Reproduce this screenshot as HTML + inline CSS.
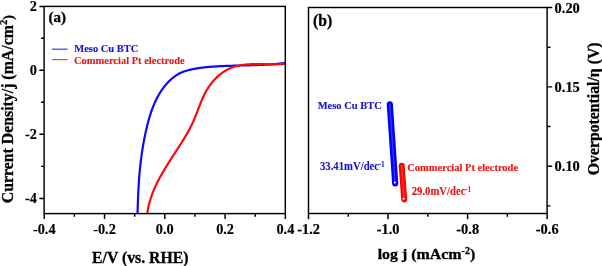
<!DOCTYPE html>
<html><head><meta charset="utf-8"><title>LSV and Tafel plots</title>
<style>html,body{margin:0;padding:0;background:#fff;width:602px;height:266px;overflow:hidden}</style>
</head><body>
<svg width="602" height="266" viewBox="0 0 602 266" style="position:absolute;left:0;top:0;font-family:'Liberation Serif','Times New Roman',serif;font-weight:bold">
<rect width="602" height="266" fill="#fff"/>
<defs><clipPath id="cl"><rect x="44.1" y="6.4" width="241.20" height="207.20"/></clipPath></defs>
<g clip-path="url(#cl)" fill="none" stroke-width="2.2" stroke-linejoin="round">
<path d="M137.55,214.03 L137.57,213.14 L137.59,212.25 L137.61,211.36 L137.63,210.47 L137.65,209.59 L137.68,208.70 L137.70,207.82 L137.72,206.94 L137.75,206.05 L137.77,205.17 L137.80,204.29 L137.83,203.41 L137.85,202.54 L137.88,201.66 L137.91,200.78 L137.95,199.91 L137.98,199.03 L138.01,198.16 L138.05,197.28 L138.08,196.41 L138.12,195.54 L138.16,194.67 L138.20,193.80 L138.24,192.93 L138.28,192.06 L138.32,191.19 L138.37,190.32 L138.41,189.45 L138.46,188.59 L138.51,187.72 L138.56,186.86 L138.61,185.99 L138.66,185.13 L138.72,184.26 L138.77,183.40 L138.83,182.54 L138.89,181.68 L138.95,180.82 L139.01,179.96 L139.07,179.09 L139.14,178.23 L139.20,177.38 L139.27,176.52 L139.34,175.66 L139.41,174.80 L139.49,173.94 L139.56,173.08 L139.64,172.23 L139.72,171.37 L139.80,170.51 L139.88,169.66 L139.96,168.80 L140.05,167.95 L140.14,167.09 L140.23,166.24 L140.32,165.38 L140.41,164.53 L140.51,163.67 L140.61,162.82 L140.71,161.96 L140.81,161.11 L140.92,160.26 L141.02,159.40 L141.13,158.55 L141.24,157.70 L141.35,156.84 L141.47,155.99 L141.59,155.14 L141.71,154.28 L141.83,153.43 L141.95,152.58 L142.08,151.72 L142.21,150.87 L142.34,150.02 L142.48,149.16 L142.61,148.31 L142.75,147.46 L142.89,146.60 L143.04,145.75 L143.18,144.90 L143.33,144.04 L143.48,143.19 L143.64,142.34 L143.79,141.48 L143.95,140.63 L144.12,139.77 L144.28,138.92 L144.45,138.06 L144.62,137.21 L144.79,136.35 L144.97,135.50 L145.15,134.64 L145.33,133.78 L145.51,132.93 L145.70,132.07 L145.89,131.21 L146.08,130.36 L146.28,129.50 L146.48,128.64 L146.68,127.78 L146.89,126.92 L147.10,126.06 L147.31,125.21 L147.53,124.35 L147.75,123.49 L147.97,122.63 L148.20,121.78 L148.43,120.92 L148.67,120.07 L148.91,119.22 L149.15,118.37 L149.40,117.52 L149.66,116.67 L149.91,115.82 L150.18,114.98 L150.45,114.14 L150.72,113.30 L151.00,112.46 L151.28,111.63 L151.57,110.80 L151.87,109.97 L152.17,109.14 L152.48,108.32 L152.79,107.50 L153.11,106.68 L153.43,105.87 L153.77,105.06 L154.10,104.26 L154.45,103.46 L154.80,102.66 L155.16,101.87 L155.52,101.08 L155.89,100.29 L156.27,99.52 L156.66,98.74 L157.05,97.97 L157.45,97.21 L157.86,96.45 L158.27,95.70 L158.70,94.95 L159.13,94.20 L159.57,93.47 L160.01,92.74 L160.47,92.01 L160.93,91.29 L161.40,90.58 L161.89,89.88 L162.37,89.18 L162.87,88.49 L163.38,87.80 L163.90,87.12 L164.42,86.45 L164.96,85.79 L165.50,85.13 L166.05,84.49 L166.62,83.85 L167.19,83.21 L167.77,82.59 L168.36,81.97 L168.96,81.36 L169.58,80.77 L170.20,80.17 L170.83,79.59 L171.48,79.02 L172.13,78.46 L172.80,77.90 L173.47,77.36 L174.16,76.83 L174.86,76.31 L175.56,75.81 L176.28,75.32 L177.01,74.85 L177.75,74.40 L178.50,73.97 L179.26,73.56 L180.04,73.17 L180.82,72.80 L181.61,72.45 L182.41,72.12 L183.22,71.81 L184.04,71.51 L184.86,71.23 L185.69,70.97 L186.52,70.72 L187.36,70.48 L188.20,70.25 L189.05,70.03 L189.90,69.83 L190.75,69.63 L191.60,69.44 L192.45,69.25 L193.30,69.08 L194.16,68.91 L195.01,68.74 L195.87,68.59 L196.73,68.44 L197.59,68.29 L198.45,68.16 L199.31,68.03 L200.18,67.90 L201.04,67.78 L201.90,67.67 L202.77,67.56 L203.63,67.45 L204.50,67.36 L205.37,67.26 L206.24,67.17 L207.10,67.08 L207.97,67.00 L208.84,66.93 L209.71,66.85 L210.58,66.78 L211.45,66.71 L212.32,66.65 L213.19,66.59 L214.06,66.53 L214.93,66.48 L215.80,66.42 L216.67,66.37 L217.54,66.32 L218.41,66.28 L219.29,66.23 L220.16,66.19 L221.03,66.15 L221.90,66.11 L222.77,66.07 L223.64,66.03 L224.51,65.99 L225.38,65.96 L226.25,65.93 L227.11,65.90 L227.98,65.87 L228.85,65.84 L229.72,65.81 L230.59,65.78 L231.46,65.75 L232.33,65.73 L233.20,65.70 L234.07,65.68 L234.94,65.66 L235.81,65.63 L236.67,65.61 L237.54,65.59 L238.41,65.57 L239.28,65.55 L240.15,65.52 L241.02,65.50 L241.88,65.48 L242.75,65.46 L243.62,65.44 L244.49,65.42 L245.35,65.40 L246.22,65.38 L247.09,65.35 L247.96,65.33 L248.82,65.31 L249.69,65.28 L250.56,65.26 L251.42,65.23 L252.29,65.21 L253.16,65.18 L254.02,65.16 L254.89,65.13 L255.75,65.10 L256.62,65.07 L257.49,65.04 L258.35,65.00 L259.22,64.97 L260.08,64.93 L260.95,64.90 L261.81,64.86 L262.68,64.82 L263.54,64.78 L264.41,64.73 L265.27,64.69 L266.14,64.64 L267.00,64.59 L267.87,64.54 L268.73,64.49 L269.60,64.43 L270.46,64.37 L271.32,64.31 L272.19,64.25 L273.05,64.19 L273.91,64.12 L274.78,64.05 L275.64,63.98 L276.50,63.91 L277.37,63.83 L278.23,63.75 L279.09,63.67 L279.96,63.58 L280.82,63.49 L281.68,63.40 L282.54,63.30 L283.40,63.20 L284.27,63.10 L285.13,63.00 L285.99,62.89" stroke="#0a0aff"/>
<path d="M147.19,213.97 L147.29,213.20 L147.41,212.43 L147.52,211.66 L147.65,210.89 L147.78,210.13 L147.92,209.37 L148.07,208.61 L148.22,207.85 L148.38,207.10 L148.54,206.35 L148.72,205.61 L148.89,204.86 L149.08,204.12 L149.27,203.38 L149.47,202.64 L149.67,201.91 L149.88,201.18 L150.09,200.45 L150.31,199.72 L150.54,198.99 L150.77,198.27 L151.00,197.55 L151.25,196.83 L151.49,196.12 L151.75,195.40 L152.00,194.69 L152.27,193.98 L152.53,193.27 L152.81,192.57 L153.08,191.86 L153.37,191.16 L153.65,190.46 L153.94,189.77 L154.24,189.07 L154.54,188.38 L154.84,187.68 L155.15,186.99 L155.46,186.31 L155.78,185.62 L156.10,184.93 L156.43,184.25 L156.76,183.57 L157.09,182.89 L157.42,182.21 L157.76,181.53 L158.11,180.86 L158.45,180.19 L158.80,179.51 L159.16,178.84 L159.51,178.17 L159.87,177.51 L160.23,176.84 L160.60,176.17 L160.97,175.51 L161.34,174.85 L161.71,174.18 L162.09,173.52 L162.47,172.86 L162.85,172.21 L163.23,171.55 L163.62,170.89 L164.01,170.24 L164.40,169.58 L164.79,168.93 L165.18,168.28 L165.58,167.63 L165.97,166.98 L166.37,166.33 L166.77,165.68 L167.18,165.03 L167.58,164.39 L167.99,163.74 L168.39,163.09 L168.80,162.45 L169.21,161.81 L169.62,161.16 L170.03,160.52 L170.44,159.88 L170.85,159.24 L171.27,158.59 L171.68,157.95 L172.09,157.31 L172.51,156.67 L172.92,156.03 L173.34,155.39 L173.75,154.75 L174.17,154.12 L174.59,153.48 L175.00,152.84 L175.42,152.20 L175.83,151.56 L176.25,150.92 L176.66,150.29 L177.08,149.65 L177.49,149.01 L177.90,148.37 L178.32,147.74 L178.73,147.10 L179.14,146.46 L179.55,145.82 L179.96,145.18 L180.36,144.54 L180.77,143.90 L181.18,143.26 L181.58,142.62 L181.98,141.98 L182.38,141.34 L182.78,140.70 L183.18,140.06 L183.57,139.41 L183.97,138.77 L184.36,138.12 L184.75,137.47 L185.14,136.83 L185.52,136.18 L185.91,135.53 L186.29,134.87 L186.66,134.22 L187.04,133.57 L187.41,132.91 L187.78,132.25 L188.15,131.59 L188.51,130.93 L188.88,130.27 L189.23,129.61 L189.59,128.94 L189.94,128.27 L190.29,127.60 L190.63,126.93 L190.98,126.26 L191.31,125.58 L191.65,124.90 L191.98,124.22 L192.31,123.54 L192.63,122.86 L192.95,122.17 L193.26,121.48 L193.57,120.79 L193.88,120.09 L194.18,119.39 L194.48,118.69 L194.77,117.99 L195.06,117.29 L195.35,116.58 L195.63,115.87 L195.92,115.16 L196.20,114.45 L196.48,113.74 L196.75,113.02 L197.03,112.31 L197.30,111.59 L197.58,110.88 L197.85,110.16 L198.12,109.44 L198.39,108.73 L198.67,108.01 L198.94,107.29 L199.22,106.58 L199.49,105.86 L199.77,105.14 L200.05,104.43 L200.33,103.72 L200.62,103.00 L200.91,102.29 L201.20,101.58 L201.49,100.87 L201.79,100.17 L202.09,99.46 L202.40,98.76 L202.71,98.06 L203.02,97.37 L203.34,96.67 L203.67,95.98 L204.00,95.29 L204.34,94.61 L204.68,93.92 L205.03,93.24 L205.39,92.57 L205.75,91.90 L206.12,91.23 L206.50,90.57 L206.89,89.91 L207.29,89.25 L207.69,88.60 L208.10,87.96 L208.52,87.32 L208.94,86.69 L209.38,86.06 L209.82,85.43 L210.27,84.81 L210.72,84.20 L211.18,83.60 L211.65,83.00 L212.13,82.41 L212.61,81.82 L213.10,81.24 L213.60,80.67 L214.11,80.10 L214.62,79.55 L215.14,79.00 L215.66,78.46 L216.20,77.92 L216.74,77.40 L217.28,76.88 L217.83,76.37 L218.39,75.87 L218.96,75.38 L219.53,74.90 L220.11,74.42 L220.70,73.96 L221.29,73.51 L221.88,73.06 L222.49,72.63 L223.10,72.21 L223.72,71.79 L224.34,71.39 L224.97,71.00 L225.60,70.62 L226.24,70.25 L226.89,69.89 L227.54,69.54 L228.20,69.21 L228.87,68.89 L229.54,68.57 L230.21,68.28 L230.89,67.99 L231.58,67.72 L232.27,67.45 L232.97,67.20 L233.68,66.97 L234.39,66.74 L235.10,66.53 L235.82,66.33 L236.54,66.14 L237.27,65.96 L238.00,65.78 L238.73,65.62 L239.47,65.47 L240.22,65.33 L240.97,65.20 L241.72,65.08 L242.47,64.97 L243.23,64.86 L243.99,64.76 L244.75,64.67 L245.52,64.59 L246.29,64.52 L247.06,64.45 L247.83,64.39 L248.61,64.34 L249.38,64.29 L250.16,64.25 L250.94,64.21 L251.73,64.18 L252.51,64.15 L253.29,64.13 L254.08,64.11 L254.87,64.10 L255.65,64.09 L256.44,64.09 L257.23,64.09 L258.02,64.09 L258.81,64.09 L259.60,64.10 L260.39,64.11 L261.17,64.12 L261.96,64.13 L262.75,64.14 L263.53,64.16 L264.32,64.17 L265.10,64.19 L265.88,64.21 L266.66,64.22 L267.44,64.24 L268.22,64.25 L269.00,64.27 L269.77,64.28 L270.54,64.29 L271.31,64.31 L272.07,64.31 L272.84,64.32 L273.60,64.32 L274.35,64.32 L275.11,64.32 L275.86,64.32 L276.61,64.31 L277.35,64.29 L278.09,64.27 L278.82,64.25 L279.56,64.23 L280.28,64.19 L281.01,64.16 L281.72,64.11 L282.44,64.06 L283.14,64.01 L283.85,63.95 L284.55,63.88 L285.24,63.80 L285.93,63.72" stroke="#ff0a0a"/>
</g>
<rect x="44.1" y="6.4" width="241.20" height="207.20" fill="none" stroke="#000" stroke-width="1.45"/>
<path d="M39.4,6.40H44.1 M39.4,70.20H44.1 M39.4,134.30H44.1 M39.4,198.40H44.1 M41.0,38.15H44.1 M41.0,102.25H44.1 M41.0,166.35H44.1 M44.24,213.6V219.0 M104.52,213.6V219.0 M164.80,213.6V219.0 M225.08,213.6V219.0 M285.36,213.6V219.0 M74.38,213.6V216.8 M134.66,213.6V216.8 M194.94,213.6V216.8 M255.22,213.6V216.8" stroke="#000" stroke-width="1.45" fill="none"/>
<text transform="translate(37.00,10.90) scale(1.0,1.05)" font-size="14.3" text-anchor="end" stroke="#000" stroke-width="0.15">2</text>
<text transform="translate(37.00,75.00) scale(1.0,1.05)" font-size="14.3" text-anchor="end" stroke="#000" stroke-width="0.15">0</text>
<text transform="translate(37.00,139.10) scale(1.0,1.05)" font-size="14.3" text-anchor="end" stroke="#000" stroke-width="0.15">-2</text>
<text transform="translate(37.00,203.20) scale(1.0,1.05)" font-size="14.3" text-anchor="end" stroke="#000" stroke-width="0.15">-4</text>
<text transform="translate(44.24,233.70) scale(1.0,1.03)" font-size="14.3" text-anchor="middle" stroke="#000" stroke-width="0.15">-0.4</text>
<text transform="translate(104.52,233.70) scale(1.0,1.03)" font-size="14.3" text-anchor="middle" stroke="#000" stroke-width="0.15">-0.2</text>
<text transform="translate(164.80,233.70) scale(1.0,1.03)" font-size="14.3" text-anchor="middle" stroke="#000" stroke-width="0.15">0.0</text>
<text transform="translate(225.08,233.70) scale(1.0,1.03)" font-size="14.3" text-anchor="middle" stroke="#000" stroke-width="0.15">0.2</text>
<text transform="translate(285.36,233.70) scale(1.0,1.03)" font-size="14.3" text-anchor="middle" stroke="#000" stroke-width="0.15">0.4</text>
<text transform="translate(48.60,21.60) scale(1.0,1.04)" font-size="15" stroke="#000" stroke-width="0.3">(a)</text>
<text transform="translate(13.00,203.30) rotate(-90) scale(0.99,1.08)" font-size="16" stroke="#000" stroke-width="0.3">Current Density/j (mA/cm<tspan font-size="10.5" dy="-6">2</tspan><tspan dy="5.8" dx="0.3" font-size="14">)</tspan></text>
<text transform="translate(92.00,262.60) scale(1.0,1.09)" font-size="15.78" stroke="#000" stroke-width="0.3">E/V (vs. RHE)</text>
<path d="M52,49.2H67.6" stroke="#3c3cff" stroke-width="1.2"/>
<path d="M52,59.6H67.6" stroke="#ff3c3c" stroke-width="1.2"/>
<text transform="translate(74.30,51.80) scale(1.0,1.06)" font-size="10.5" fill="#1212d0" stroke="#1212d0" stroke-width="0.1">Meso Cu BTC</text>
<text transform="translate(74.00,63.80) scale(1.0,1.06)" font-size="10.5" fill="#f21010" stroke="#f21010" stroke-width="0.1">Commercial Pt electrode</text>
<rect x="308.5" y="7.5" width="238.60" height="206.00" fill="none" stroke="#000" stroke-width="1.45"/>
<path d="M308.50,213.5V219.2 M388.04,213.5V219.2 M467.58,213.5V219.2 M547.12,213.5V219.2 M348.27,213.5V216.7 M427.81,213.5V216.7 M507.35,213.5V216.7 M547.1,7.50H552.2 M547.1,86.85H552.2 M547.1,166.20H552.2 M547.1,47.18H550.5 M547.1,126.53H550.5 M547.1,205.88H550.5" stroke="#000" stroke-width="1.45" fill="none"/>
<text transform="translate(308.60,234.00) scale(1.0,1.03)" font-size="14.4" text-anchor="middle" stroke="#000" stroke-width="0.2">-1.2</text>
<text transform="translate(388.14,234.00) scale(1.0,1.03)" font-size="14.4" text-anchor="middle" stroke="#000" stroke-width="0.2">-1.0</text>
<text transform="translate(467.68,234.00) scale(1.0,1.03)" font-size="14.4" text-anchor="middle" stroke="#000" stroke-width="0.2">-0.8</text>
<text transform="translate(547.22,234.00) scale(1.0,1.03)" font-size="14.4" text-anchor="middle" stroke="#000" stroke-width="0.2">-0.6</text>
<text transform="translate(554.60,13.20) scale(1.0,1.04)" font-size="14.4" stroke="#000" stroke-width="0.2">0.20</text>
<text transform="translate(554.60,91.75) scale(1.0,1.04)" font-size="14.4" stroke="#000" stroke-width="0.2">0.15</text>
<text transform="translate(554.60,171.10) scale(1.0,1.04)" font-size="14.4" stroke="#000" stroke-width="0.2">0.10</text>
<text transform="translate(313.00,25.60)" font-size="15.7" stroke="#000" stroke-width="0.3">(b)</text>
<text transform="translate(377.70,258.90) scale(1.0,0.965)" font-size="15.92" stroke="#000" stroke-width="0.3">log j (mAcm<tspan font-size="10" dy="-5.0">-2</tspan><tspan dy="5.0">)</tspan></text>
<text transform="translate(598.80,175.20) rotate(-90)" font-size="15.76" stroke="#000" stroke-width="0.3">Overpotential/η (V)</text>
<g stroke-linecap="round" fill="none">
<path d="M389.8,104.4L395.2,183.4" stroke="#0000ff" stroke-width="6.2"/>
<path d="M389.8,104.4L395.2,183.4" stroke="#6a6aff" stroke-width="1.4" stroke-dasharray="1.5 1.2" opacity="0.55"/>
<path d="M401.7,165.8L404.2,199.4" stroke="#ff0000" stroke-width="6.0"/>
<path d="M401.7,165.8L404.2,199.4" stroke="#ff6a6a" stroke-width="1.4" stroke-dasharray="1.5 1.2" opacity="0.55"/>
</g>
<circle cx="394.8" cy="182.6" r="1" fill="#fff"/>
<circle cx="403.7" cy="198.8" r="1" fill="#fff"/>
<text transform="translate(317.70,108.90) scale(1.0,1.08)" font-size="10.5" fill="#1212d0" stroke="#1212d0" stroke-width="0.1">Meso Cu BTC</text>
<text transform="translate(320.00,170.00) scale(1.0,1.1)" font-size="10.7" fill="#1212d0" stroke="#1212d0" stroke-width="0.1">33.41mV/dec<tspan font-size="6.6" dy="-3.1">-1</tspan></text>
<text transform="translate(407.30,171.30) scale(1.0,1.08)" font-size="10.5" fill="#f21010" stroke="#f21010" stroke-width="0.1">Commercial Pt electrode</text>
<text transform="translate(411.70,195.00) scale(1.0,1.1)" font-size="10.7" fill="#f21010" stroke="#f21010" stroke-width="0.1">29.0mV/dec<tspan font-size="6.6" dy="-3.1">-1</tspan></text>
</svg>
</body></html>
